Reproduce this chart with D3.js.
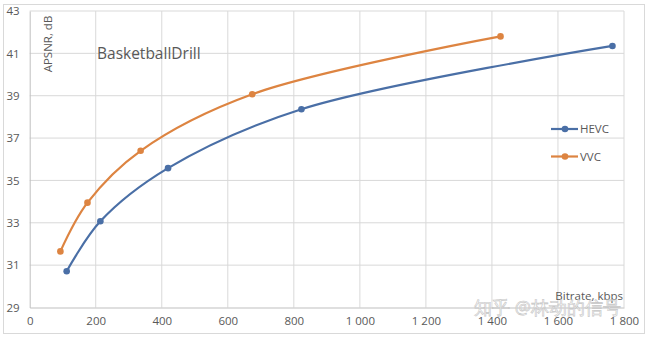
<!DOCTYPE html>
<html lang="zh">
<head>
<meta charset="utf-8">
<title>BasketballDrill</title>
<script src="https://d3js.org/d3.v7.min.js"></script>
<style>
  body { margin: 0; background: #fff; }
  text { font-family: "Open Sans", "Liberation Sans", sans-serif; fill: #595959; }
</style>
</head>
<body>
<div id="chart"></div>
<script>
// data
var seriesNames = ["HEVC", "VVC"];
var hevcBitrate = [112, 214, 419, 823, 1765];
var hevcPsnr = [30.71, 33.07, 35.58, 38.36, 41.35];
var vvcBitrate = [93, 175, 336, 674, 1426];
var vvcPsnr = [31.65, 33.95, 36.4, 39.07, 41.8];
var xTicks = [0, 200, 400, 600, 800, 1000, 1200, 1400, 1600, 1800];
var yTicks = [29, 31, 33, 35, 37, 39, 41, 43];

var colors = { HEVC: "#4a6fa6", VVC: "#dd8441" };

var W = 652, H = 342;
var m = { top: 11, right: 28, bottom: 34.5, left: 29.7 };

var svg = d3.select("#chart").append("svg")
  .attr("width", W).attr("height", H);

// outer chart border
svg.append("rect")
  .attr("x", 3.5).attr("y", 4.5)
  .attr("width", 641).attr("height", 329)
  .attr("fill", "#fff").attr("stroke", "#d9d9d9");

var x = d3.scaleLinear().domain([0, 1800]).range([m.left, W - m.right]);
var y = d3.scaleLinear().domain([29, 43]).range([H - m.bottom, m.top]);

// gridlines
svg.append("g").selectAll("line.v")
  .data(xTicks.slice(1))
  .join("line")
  .attr("x1", d => x(d)).attr("x2", d => x(d))
  .attr("y1", y(43)).attr("y2", y(29))
  .attr("stroke", "#d9d9d9");

svg.append("g").selectAll("line.h")
  .data(yTicks.slice(1))
  .join("line")
  .attr("x1", x(0)).attr("x2", x(1800))
  .attr("y1", d => y(d)).attr("y2", d => y(d))
  .attr("stroke", "#d9d9d9");

// axes
var xAxis = svg.append("g")
  .attr("transform", "translate(0," + y(29) + ")")
  .call(d3.axisBottom(x).tickValues(xTicks).tickSize(0).tickPadding(9)
    .tickFormat(d => d3.format(",")(d).replace(",", "\u00a0")));
var yAxis = svg.append("g")
  .attr("transform", "translate(" + x(0) + ",0)")
  .call(d3.axisLeft(y).tickValues(yTicks).tickSize(0).tickPadding(10));

[xAxis, yAxis].forEach(function (g) {
  g.select(".domain").attr("stroke", "#bfbfbf");
  g.selectAll("text").attr("font-size", 11.5).attr("fill", "#595959")
    .attr("font-family", "'Open Sans', sans-serif");
});

// axis titles and chart title
svg.append("text")
  .attr("transform", "translate(52,44) rotate(-90)")
  .attr("text-anchor", "middle")
  .attr("font-size", 11.5)
  .text("APSNR, dB");

svg.append("text")
  .attr("x", 623).attr("y", 300)
  .attr("text-anchor", "end")
  .attr("font-size", 11.5)
  .text("Bitrate, kbps");

svg.append("text")
  .attr("x", 97).attr("y", 58.5)
  .attr("font-size", 15.5)
  .text("BasketballDrill");

// series
var series = [
  { name: "HEVC", pts: hevcBitrate.map((b, i) => [b, hevcPsnr[i]]) },
  { name: "VVC", pts: vvcBitrate.map((b, i) => [b, vvcPsnr[i]]) }
];

var line = d3.line()
  .x(d => x(d[0])).y(d => y(d[1]))
  .curve(d3.curveCatmullRom.alpha(0.5));

var sg = svg.append("g").selectAll("g")
  .data(series)
  .join("g");

sg.append("path")
  .attr("d", d => line(d.pts))
  .attr("fill", "none")
  .attr("stroke", d => colors[d.name])
  .attr("stroke-width", 2.2);

sg.selectAll("circle")
  .data(d => d.pts.map(p => ({ p: p, name: d.name })))
  .join("circle")
  .attr("cx", d => x(d.p[0])).attr("cy", d => y(d.p[1]))
  .attr("r", 3.3)
  .attr("fill", d => colors[d.name]);

// legend
var lg = svg.append("g").selectAll("g")
  .data(seriesNames)
  .join("g")
  .attr("transform", (d, i) => "translate(551," + (129 + i * 27.5) + ")");

lg.append("line")
  .attr("x1", 0).attr("x2", 27)
  .attr("stroke", d => colors[d]).attr("stroke-width", 2.2);
lg.append("circle")
  .attr("cx", 14).attr("r", 3.3)
  .attr("fill", d => colors[d]);
lg.append("text")
  .attr("x", 29).attr("dy", "0.35em")
  .attr("font-size", 11.5)
  .text(d => d);

// watermark (faint outlined text)
svg.append("text")
  .attr("x", 474).attr("y", 314)
  .attr("font-family", "'Noto Sans CJK SC', sans-serif")
  .attr("font-size", 18)
  .attr("stroke", "#c4c4c4").attr("stroke-width", 0.6)
  .style("fill", "rgba(255,255,255,0.5)")
  .text("知乎 @林动的信号");
</script>
</body>
</html>
